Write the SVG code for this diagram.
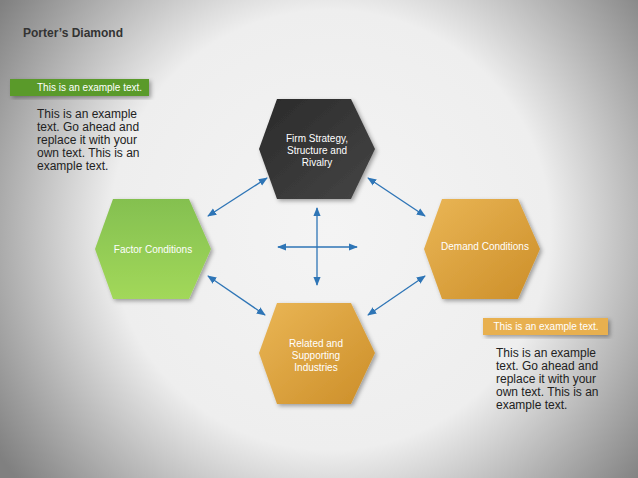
<svg xmlns="http://www.w3.org/2000/svg" width="638" height="478" viewBox="0 0 638 478">
<defs>
<radialGradient id="bg" cx="330" cy="230" r="400" gradientUnits="userSpaceOnUse">
<stop offset="0" stop-color="#f4f4f4"/><stop offset="0.55" stop-color="#eeeeee"/><stop offset="1" stop-color="#808080"/>
</radialGradient>
<linearGradient id="gk" x1="0" y1="0" x2="1" y2="1"><stop offset="0" stop-color="#2a2a2a"/><stop offset="1" stop-color="#454545"/></linearGradient>
<linearGradient id="gg" x1="0" y1="0" x2="0" y2="1"><stop offset="0" stop-color="#84c050"/><stop offset="1" stop-color="#a2d85a"/></linearGradient>
<linearGradient id="go" x1="0" y1="0" x2="1" y2="1"><stop offset="0" stop-color="#eab656"/><stop offset="1" stop-color="#cc8e28"/></linearGradient>
<filter id="sh" x="-10%" y="-10%" width="130%" height="130%"><feDropShadow dx="2" dy="2" stdDeviation="2" flood-opacity="0.35"/></filter>
<marker id="ah" viewBox="0 0 10 10" refX="9" refY="5" markerWidth="7" markerHeight="7" orient="auto-start-reverse"><path d="M0,1 L10,5 L0,9 z" fill="#2e75b6"/></marker>
</defs>
<style>
.lbl{font-family:"Liberation Sans",Arial,sans-serif;font-size:10px;fill:#fff;text-anchor:middle}
.body{font-family:"Liberation Sans",Arial,sans-serif;font-size:12px;fill:#222}
.con{stroke:#2e75b6;stroke-width:1.3;fill:none;marker-start:url(#ah);marker-end:url(#ah)}
</style>
<rect width="638" height="478" fill="url(#bg)"/>
<text x="23" y="37" font-family="Liberation Sans,Arial,sans-serif" font-size="12" font-weight="bold" fill="#333">Porter’s Diamond</text>
<g id="note1">
<rect x="10" y="79" width="139" height="17" fill="#5a9a2a" filter="url(#sh)"/>
<text x="37" y="91" font-family="Liberation Sans,Arial,sans-serif" font-size="10" fill="#fff">This is an example text.</text>
<text class="body"><tspan x="37" y="118">This is an example</tspan><tspan x="37" y="131">text. Go ahead and</tspan><tspan x="37" y="144">replace it with your</tspan><tspan x="37" y="157">own text. This is an</tspan><tspan x="37" y="170">example text.</tspan></text>
</g>
<g id="note2">
<rect x="483" y="318" width="125" height="17" fill="#e8b050" filter="url(#sh)"/>
<text x="546" y="330" class="lbl">This is an example text.</text>
<text class="body"><tspan x="496" y="357">This is an example</tspan><tspan x="496" y="370">text. Go ahead and</tspan><tspan x="496" y="383">replace it with your</tspan><tspan x="496" y="396">own text. This is an</tspan><tspan x="496" y="409">example text.</tspan></text>
</g>
<g id="firm">
<polygon points="277,99 351,99 375,149 351,199 277,199 259,149" fill="url(#gk)" filter="url(#sh)"/>
<text class="lbl"><tspan x="317" y="142">Firm Strategy,</tspan><tspan x="317" y="154">Structure and</tspan><tspan x="317" y="166">Rivalry</tspan></text>
</g>
<g id="factor">
<polygon points="113,199 189,199 211,249 189,299 113,299 95,249" fill="url(#gg)" filter="url(#sh)"/>
<text x="153" y="253" class="lbl">Factor Conditions</text>
</g>
<g id="demand">
<polygon points="442,199 518,199 540,249 518,299 442,299 424,249" fill="url(#go)" filter="url(#sh)"/>
<text x="485" y="250" class="lbl">Demand Conditions</text>
</g>
<g id="related">
<polygon points="277,303 351,303 375,353 351,404 277,404 259,353" fill="url(#go)" filter="url(#sh)"/>
<text class="lbl"><tspan x="316" y="347">Related and</tspan><tspan x="316" y="359">Supporting</tspan><tspan x="316" y="371">Industries</tspan></text>
</g>
<g id="connectors">
<line class="con" x1="208" y1="216" x2="267" y2="178"/>
<line class="con" x1="368" y1="178" x2="425" y2="216"/>
<line class="con" x1="208" y1="276" x2="265" y2="315"/>
<line class="con" x1="368" y1="315" x2="425" y2="276"/>
<line class="con" x1="317" y1="208" x2="317" y2="285"/>
<line class="con" x1="278" y1="247" x2="357" y2="247"/>
</g>
</svg>
